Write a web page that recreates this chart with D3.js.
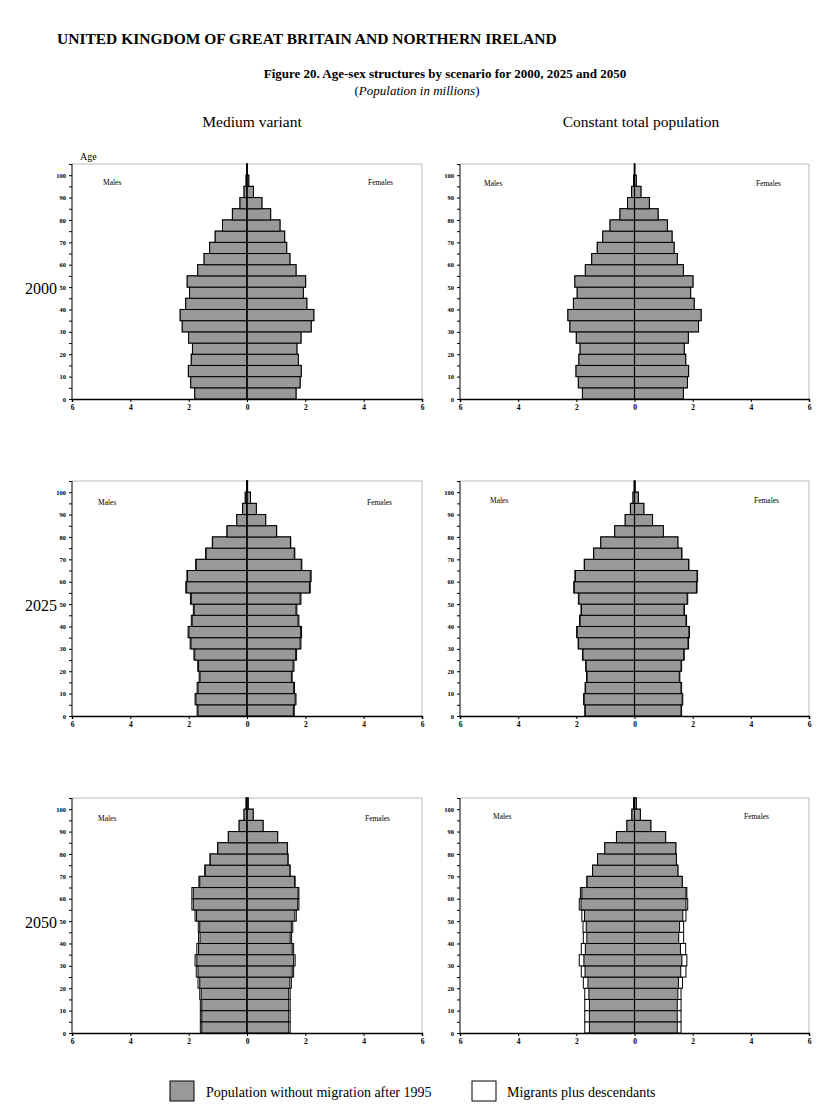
<!DOCTYPE html>
<html>
<head>
<meta charset="utf-8">
<script src="https://cdn.jsdelivr.net/npm/d3@7"></script>
<style>
  body { margin: 0; background: #fff; }
  text { font-family: "Liberation Serif", "Times New Roman", serif; }
</style>
</head>
<body>
<svg id="chart" width="840" height="1120"></svg>
<script>
// age groups 0-4 ... 100+
const ageStarts = d3.range(0, 105, 5);
const xTicks = [-6, -4, -2, 0, 2, 4, 6];
const yTicks = d3.range(0, 101, 10);

// population without migration after 1995 (millions)
const med2000M = [1.79,1.93,2.01,1.91,1.87,2.0,2.22,2.29,2.10,1.97,2.05,1.69,1.47,1.28,1.09,0.84,0.5,0.24,0.1,0.03,0.005];
const med2000F = [1.68,1.82,1.86,1.76,1.71,1.85,2.2,2.29,2.05,1.93,2.01,1.68,1.47,1.36,1.29,1.13,0.81,0.51,0.22,0.06,0.01];
const med2025M = [1.68,1.75,1.68,1.61,1.66,1.79,1.92,1.99,1.88,1.81,1.91,2.07,2.04,1.74,1.40,1.18,0.68,0.35,0.15,0.06,0.01];
const med2025F = [1.59,1.65,1.60,1.52,1.58,1.67,1.82,1.84,1.75,1.68,1.82,2.14,2.17,1.86,1.62,1.49,1.01,0.64,0.32,0.12,0.02];
const med2050M = [1.55,1.55,1.55,1.57,1.62,1.68,1.72,1.66,1.61,1.62,1.73,1.84,1.84,1.62,1.43,1.26,1.0,0.64,0.27,0.1,0.03];
const med2050F = [1.43,1.43,1.43,1.43,1.47,1.55,1.60,1.55,1.48,1.52,1.64,1.74,1.75,1.63,1.47,1.40,1.38,1.05,0.55,0.21,0.04];
const con2000M = [1.79,1.93,2.01,1.91,1.87,2.0,2.22,2.29,2.10,1.97,2.05,1.69,1.47,1.28,1.09,0.84,0.5,0.24,0.1,0.03,0.005];
const con2000F = [1.68,1.82,1.86,1.76,1.71,1.85,2.2,2.29,2.05,1.93,2.01,1.68,1.47,1.36,1.29,1.13,0.81,0.51,0.22,0.06,0.01];
const con2025M = [1.69,1.73,1.68,1.63,1.66,1.77,1.92,1.97,1.87,1.82,1.91,2.07,2.03,1.72,1.40,1.16,0.68,0.32,0.14,0.05,0.01];
const con2025F = [1.60,1.64,1.60,1.54,1.60,1.69,1.84,1.87,1.77,1.70,1.81,2.13,2.15,1.86,1.62,1.49,0.99,0.62,0.32,0.13,0.02];
const con2050M = [1.55,1.55,1.55,1.57,1.60,1.70,1.74,1.69,1.64,1.66,1.72,1.84,1.81,1.63,1.44,1.27,1.02,0.62,0.26,0.09,0.03];
const con2050F = [1.47,1.47,1.47,1.49,1.51,1.59,1.63,1.58,1.52,1.55,1.66,1.77,1.77,1.64,1.49,1.44,1.42,1.07,0.56,0.20,0.06];

// migrants plus descendants (millions)
const zero21 = [0,0,0,0,0,0,0,0,0,0,0,0,0,0,0,0,0,0,0,0,0];
const medMig2025M = [0.03,0.03,0.03,0.03,0.03,0.03,0.03,0.03,0.03,0.03,0.03,0.03,0.02,0.02,0.02,0.01,0.01,0,0,0,0];
const medMig2025F = [0.03,0.03,0.03,0.03,0.03,0.03,0.03,0.03,0.03,0.03,0.03,0.03,0.03,0.02,0.02,0.01,0.01,0,0,0,0];
const medMig2050M = [0.05,0.05,0.05,0.05,0.06,0.06,0.06,0.06,0.05,0.05,0.05,0.05,0.05,0.03,0.02,0.01,0.01,0,0,0,0];
const medMig2050F = [0.05,0.05,0.05,0.05,0.05,0.05,0.05,0.05,0.05,0.05,0.05,0.04,0.03,0.02,0.01,0.01,0.01,0,0,0,0];
const conMig2025M = [0.02,0.02,0.02,0.02,0.02,0.02,0.02,0.02,0.02,0.02,0.02,0.02,0.02,0.01,0.01,0,0,0,0,0,0];
const conMig2025F = [0.02,0.02,0.02,0.02,0.02,0.02,0.02,0.02,0.02,0.02,0.02,0.02,0.02,0.01,0.01,0,0,0,0,0,0];
const conMig2050M = [0.16,0.16,0.16,0.14,0.16,0.13,0.16,0.14,0.12,0.11,0.09,0.06,0.05,0.01,0,0,0,0,0,0,0];
const conMig2050F = [0.13,0.13,0.13,0.11,0.14,0.18,0.17,0.18,0.17,0.14,0.11,0.06,0.03,0,0,0,0,0,0,0,0];

const panels = [
  {x0: 72, x1: 422, yb: 399, m: med2000M, f: med2000F, mm: zero21, mf: zero21, year: "2000", ml: 103, fl: 368, ly: 185},
  {x0: 460, x1: 809, yb: 399, m: con2000M, f: con2000F, mm: zero21, mf: zero21, ly: 186, ml: 484, fl: 756},
  {x0: 72, x1: 422, yb: 716, m: med2025M, f: med2025F, mm: medMig2025M, mf: medMig2025F, year: "2025", ml: 98, fl: 367, ly: 505},
  {x0: 460, x1: 809, yb: 716, m: con2025M, f: con2025F, mm: conMig2025M, mf: conMig2025F, ml: 490, fl: 754, ly: 503},
  {x0: 72, x1: 422, yb: 1033, m: med2050M, f: med2050F, mm: medMig2050M, mf: medMig2050F, year: "2050", ml: 98, fl: 365, ly: 821},
  {x0: 460, x1: 809, yb: 1033, m: con2050M, f: con2050F, mm: conMig2050M, mf: conMig2050F, ml: 493, fl: 744, ly: 819}
];

const svg = d3.select("#chart");

svg.append("text").attr("x", 57).attr("y", 44).attr("font-size", 15.5).attr("font-weight", "bold")
  .text("UNITED KINGDOM OF GREAT BRITAIN AND NORTHERN IRELAND");
svg.append("text").attr("x", 445).attr("y", 78).attr("text-anchor", "middle").attr("font-size", 13).attr("font-weight", "bold")
  .text("Figure 20.  Age-sex structures by scenario for 2000, 2025 and 2050");
const sub = svg.append("text").attr("x", 417).attr("y", 95).attr("text-anchor", "middle").attr("font-size", 13);
sub.append("tspan").text("(");
sub.append("tspan").attr("font-style", "italic").text("Population in millions");
sub.append("tspan").text(")");
svg.append("text").attr("x", 252).attr("y", 127).attr("text-anchor", "middle").attr("font-size", 15.5).text("Medium variant");
svg.append("text").attr("x", 641).attr("y", 127).attr("text-anchor", "middle").attr("font-size", 15.5).text("Constant total population");
svg.append("text").attr("x", 80).attr("y", 160).attr("font-size", 10).text("Age");

panels.forEach(p => {
  const x = d3.scaleLinear().domain([-6, 6]).range([p.x0, p.x1]);
  const y = d3.scaleLinear().domain([0, 105]).range([p.yb, p.yb - 235]);
  const g = svg.append("g");

  // frame (light grey top and right)
  g.append("path").attr("d", `M${p.x0},${y(105)}H${p.x1}V${p.yb}`)
    .attr("fill", "none").attr("stroke", "#bbb").attr("stroke-width", 1);

  // migrants (white) drawn under the grey bars at full total width
  const rows = ageStarts.map((a, i) => ({a, m: p.m[i], f: p.f[i], mm: p.mm[i], mf: p.mf[i]}));
  const h = y(0) - y(5);
  g.selectAll(".tot").data(rows).join("rect")
    .attr("x", d => x(-(d.m + d.mm))).attr("y", d => y(d.a + 5))
    .attr("width", d => x(d.m + d.mm) - x(-(d.m + d.mm)) > 0 ? x(0) - x(-(d.m + d.mm)) : 0)
    .attr("height", h).attr("fill", "#fff").attr("stroke", "#000").attr("stroke-width", 1);
  g.selectAll(".totf").data(rows).join("rect")
    .attr("x", x(0)).attr("y", d => y(d.a + 5))
    .attr("width", d => x(d.f + d.mf) - x(0)).attr("height", h)
    .attr("fill", "#fff").attr("stroke", "#000").attr("stroke-width", 1);
  g.selectAll(".bm").data(rows).join("rect")
    .attr("x", d => x(-d.m)).attr("y", d => y(d.a + 5))
    .attr("width", d => x(0) - x(-d.m)).attr("height", h)
    .attr("fill", "#999").attr("stroke", "#000").attr("stroke-width", 1);
  g.selectAll(".bf").data(rows).join("rect")
    .attr("x", x(0)).attr("y", d => y(d.a + 5))
    .attr("width", d => x(d.f) - x(0)).attr("height", h)
    .attr("fill", "#999").attr("stroke", "#000").attr("stroke-width", 1);

  // centre line
  g.append("line").attr("x1", x(0)).attr("x2", x(0)).attr("y1", y(0)).attr("y2", y(105))
    .attr("stroke", "#000").attr("stroke-width", 1.2);

  // y axis
  const ya = g.append("g").attr("transform", `translate(${p.x0},0)`)
    .call(d3.axisLeft(y).tickValues(d3.range(0, 106, 5)).tickSize(3)
      .tickFormat(d => d % 10 === 0 && d <= 100 ? d : ""));
  ya.select(".domain").attr("d", `M0,${y(0)}V${y(105)}`);
  ya.selectAll("text").attr("font-size", 6.5).attr("font-weight", "bold")
    .attr("font-family", "Liberation Sans, Arial, sans-serif").attr("x", -6);

  // x axis
  const xa = g.append("g").attr("transform", `translate(0,${p.yb})`)
    .call(d3.axisBottom(x).tickValues(xTicks).tickSize(3).tickFormat(d => Math.abs(d)));
  xa.select(".domain").attr("stroke-width", 1.5);
  xa.selectAll("text").attr("font-size", 7.5).attr("font-weight", "bold")
    .attr("font-family", "Liberation Sans, Arial, sans-serif");

  g.append("text").attr("x", p.ml).attr("y", p.ly).attr("font-size", 7.5).text("Males");
  g.append("text").attr("x", p.fl).attr("y", p.ly).attr("font-size", 7.5).text("Females");
  if (p.year) {
    svg.append("text").attr("x", 25).attr("y", y(47)).attr("font-size", 16).text(p.year);
  }
});

// legend
const lg = svg.append("g");
lg.append("rect").attr("x", 170).attr("y", 1081).attr("width", 24).attr("height", 20)
  .attr("fill", "#999").attr("stroke", "#000");
lg.append("text").attr("x", 206).attr("y", 1097).attr("font-size", 14).text("Population without migration after 1995");
lg.append("rect").attr("x", 472).attr("y", 1081).attr("width", 24).attr("height", 20)
  .attr("fill", "#fff").attr("stroke", "#000");
lg.append("text").attr("x", 507).attr("y", 1097).attr("font-size", 14).text("Migrants plus descendants");
</script>
</body>
</html>
